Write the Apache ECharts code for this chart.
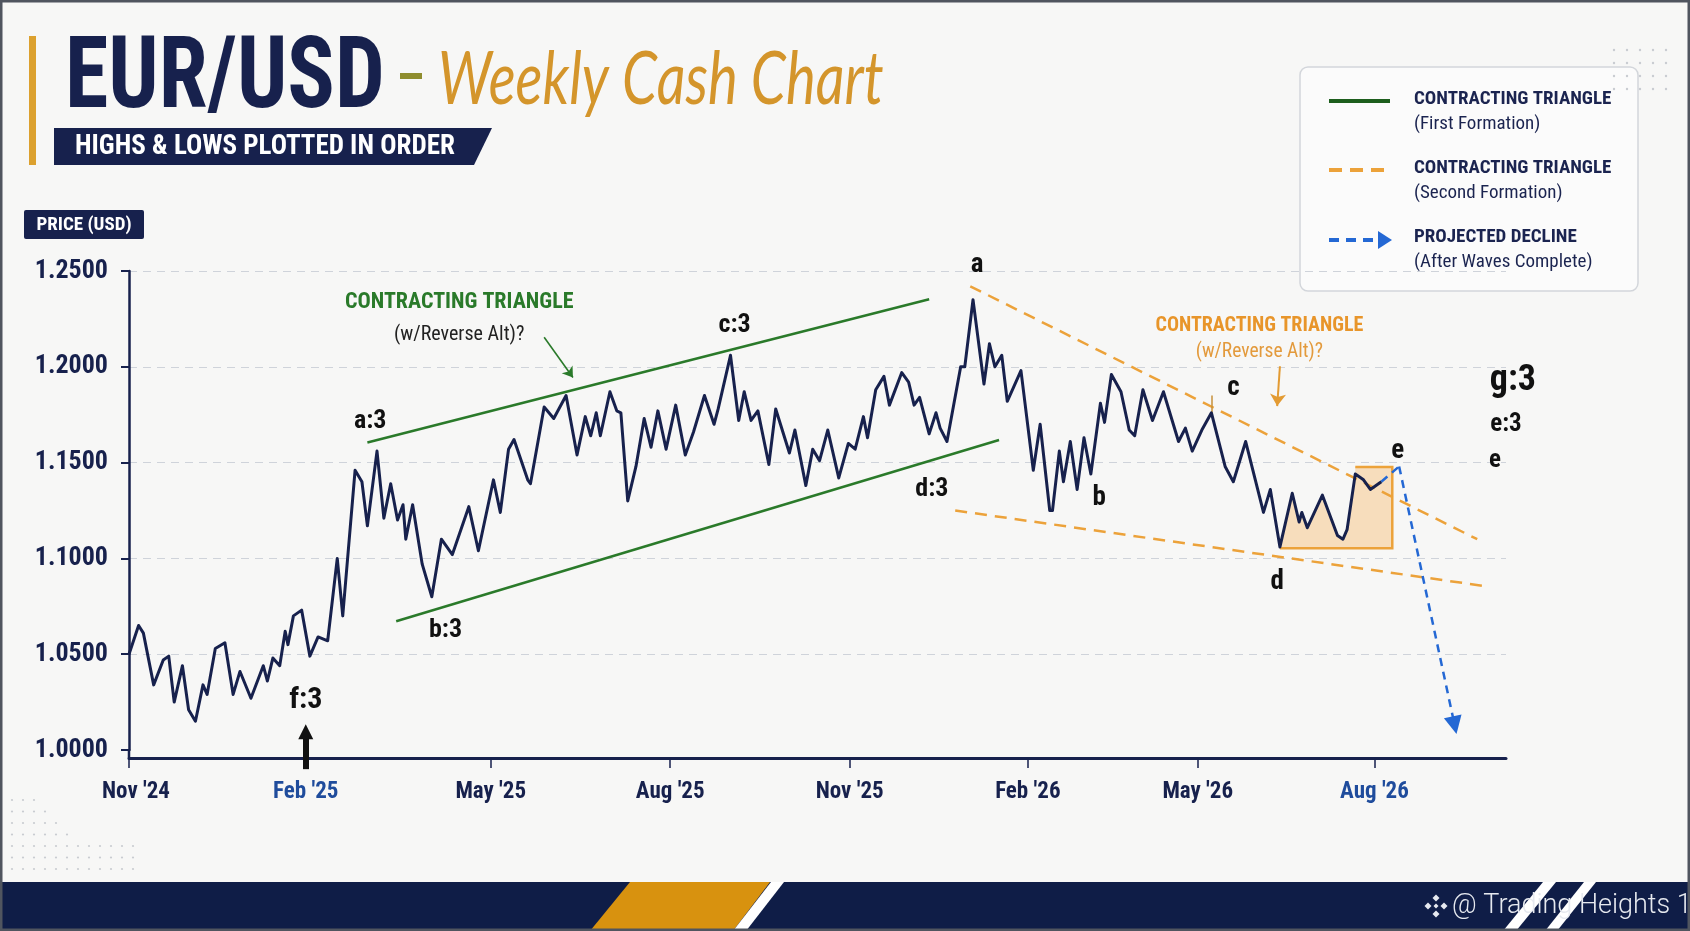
<!DOCTYPE html>
<html>
<head>
<meta charset="utf-8">
<title>EUR/USD - Weekly Cash Chart</title>
<script src="https://cdn.jsdelivr.net/npm/echarts@6/dist/echarts.min.js"></script>
<style>
  html, body { margin: 0; padding: 0; background: #f7f7f6; }
  #chart { width: 1690px; height: 931px; }
</style>
</head>
<body>
<div id="chart"></div>
<script type="text/javascript">
  // Weekly highs & lows in order. x = weeks since start of Nov 2024
  var weekPos = [
    0, 0.7, 1.05, 1.8, 2.5, 2.9, 3.3, 3.9, 4.35, 4.85,
    5.4, 5.7, 6.3, 7.0, 7.6, 8.1, 8.9, 9.8, 10.1, 10.5,
    11.0, 11.4, 11.6, 12.0, 12.6, 13.2, 13.8, 14.5, 15.2, 15.6,
    16.5, 17.0, 17.4, 18.1, 18.6, 19.1, 19.6, 20.0, 20.2, 20.7,
    21.4, 22.1, 22.8, 23.6, 24.8, 25.5, 26.6, 27.1, 27.7, 28.1,
    29.1, 29.3, 30.3, 31.0, 31.9, 32.7, 33.3, 33.7, 34.1, 34.4,
    35.1, 35.6, 35.9, 36.4, 37.0, 37.6, 38.1, 38.6, 39.2, 39.9,
    40.6, 41.2, 42.0, 42.7, 43.0, 43.9, 44.5, 44.9, 45.4, 45.9,
    46.7, 47.2, 48.2, 48.6, 49.4, 49.9, 50.4, 51.0, 51.8, 52.5,
    53.0, 53.6, 53.9, 54.5, 55.1, 55.5, 56.4, 56.9, 57.3, 57.7,
    58.4, 58.9, 59.2, 59.7, 60.7, 61.0, 61.6, 62.4, 62.8, 63.2,
    63.7, 64.1, 65.1, 66.0, 66.5, 67.2, 67.4, 67.9, 68.2, 68.7,
    69.2, 69.7, 70.2, 70.9, 71.2, 71.7, 72.4, 73.0, 73.4, 74.0,
    74.7, 75.5, 76.6, 77.1, 77.6, 78.3, 79.0, 80.0, 80.6, 81.5,
    82.8, 83.3, 84.0, 84.9, 85.4, 85.6, 86.0, 87.1, 88.2, 88.6,
    88.9, 89.5, 90.1, 90.6, 91.4
  ];
  var price = [
    1.050, 1.065, 1.061, 1.034, 1.047, 1.049, 1.025, 1.044, 1.021, 1.015,
    1.034, 1.029, 1.053, 1.056, 1.029, 1.041, 1.027, 1.044, 1.036, 1.048,
    1.044, 1.062, 1.055, 1.070, 1.073, 1.049, 1.059, 1.057, 1.100, 1.070,
    1.146, 1.140, 1.117, 1.156, 1.121, 1.139, 1.120, 1.128, 1.110, 1.128,
    1.097, 1.080, 1.110, 1.102, 1.127, 1.104, 1.141, 1.124, 1.157, 1.162,
    1.141, 1.139, 1.179, 1.173, 1.185, 1.154, 1.174, 1.164, 1.176, 1.164,
    1.187, 1.177, 1.176, 1.130, 1.148, 1.173, 1.158, 1.177, 1.157, 1.180,
    1.154, 1.166, 1.185, 1.170, 1.178, 1.206, 1.172, 1.187, 1.172, 1.177,
    1.149, 1.178, 1.155, 1.167, 1.138, 1.157, 1.151, 1.167, 1.142, 1.160,
    1.157, 1.174, 1.163, 1.188, 1.195, 1.180, 1.197, 1.192, 1.180, 1.184,
    1.165, 1.176, 1.168, 1.161, 1.200, 1.200, 1.235, 1.191, 1.212, 1.200,
    1.206, 1.182, 1.198, 1.146, 1.170, 1.125, 1.125, 1.156, 1.140, 1.161,
    1.136, 1.163, 1.144, 1.181, 1.171, 1.196, 1.187, 1.167, 1.164, 1.188,
    1.172, 1.187, 1.161, 1.168, 1.156, 1.167, 1.176, 1.148, 1.140, 1.161,
    1.124, 1.136, 1.106, 1.134, 1.119, 1.124, 1.116, 1.133, 1.112, 1.110,
    1.115, 1.144, 1.141, 1.136, 1.140
  ];

  // month ticks (weeks from start) and their labels
  var tickWeeks = [0, 12.9, 26.4, 39.5, 52.6, 65.6, 78.0, 90.9];
  var tickLabels = ["Nov '24", "Feb '25", "May '25", "Aug '25", "Nov '25", "Feb '26", "May '26", "Aug '26"];
  var blueTicks = ["Feb '25", "Aug '26"];

  // trend lines [week, price]
  var firstUpper = [[17.4, 1.1605], [58.4, 1.2353]];
  var firstLower = [[19.5, 1.0672], [63.5, 1.1618]];
  var secondUpper = [[61.4, 1.2420], [98.4, 1.1100]];
  var secondLower = [[60.3, 1.1250], [99.0, 1.0855]];
  var projection = [[91.4, 1.140], [92.7, 1.148], [96.75, 1.013]];
  var cTouch = [[79.0, 1.176], [79.0, 1.185]];

  // d -> e box
  var boxFrom = 84.0, boxTopFrom = 89.5, boxTo = 92.2;
  var boxLow = 1.1053, boxHigh = 1.1477;

  // wave labels [week, price, text]
  var minorWaves = [[17.6, 1.1715, 'a:3'], [23.1, 1.0625, 'b:3'], [44.2, 1.2215, 'c:3'], [58.6, 1.1362, 'd:3']];
  var triangleWaves = [[61.9, 1.2532, 'a'], [70.8, 1.1315, 'b'], [80.6, 1.189, 'c'], [83.8, 1.0876, 'd'], [92.6, 1.156, 'e']];
  var sideWaves = [[12.9, 1.026, 'f:3'], [101.0, 1.1925, 'g:3'], [100.5, 1.17, 'e:3'], [99.7, 1.151, 'e']];
  var notes = [
    [24.1, 1.2335, 'CONTRACTING TRIANGLE'], [24.1, 1.2165, '(w/Reverse Alt)?'],
    [82.5, 1.2214, 'CONTRACTING TRIANGLE'], [82.5, 1.2076, '(w/Reverse Alt)?']
  ];
  var noteArrows = [[[30.3, 1.2154], [32.4, 1.1944]], [[84.0, 1.2003], [83.8, 1.1795]]];
  var fArrow = [[12.9, 0.990], [12.9, 1.0095]];

  var FONT = "'Liberation Sans Narrow','Roboto Condensed','DejaVu Sans Condensed','Arial Narrow',Roboto,sans-serif";
  var NAVY = '#17214d';
  var GREEN = '#2a7a2a';
  var ORANGE = '#eca23a';
  var BLUE = '#2468d4';

  var myChart = echarts.init(document.getElementById('chart'));

  var priceData = weekPos.map(function (w, i) {
    return [w, price[i]];
  });

  function labelItems(list, sizes) {
    return list.map(function (d) {
      var item = { value: [d[0], d[1]], label: { formatter: d[2] } };
      if (sizes && sizes[d[2]]) item.label.fontSize = sizes[d[2]];
      return item;
    });
  }

  var noteStyles = [
    { color: GREEN, fontSize: 22, fontWeight: 'bold' },
    { color: '#222222', fontSize: 20, fontWeight: 'normal' },
    { color: '#e8952a', fontSize: 20, fontWeight: 'bold' },
    { color: '#e39a3c', fontSize: 19.5, fontWeight: 'normal' }
  ];

  // page decoration (title block, legend box, footer)
  var deco = [];
  deco.push({ type: 'rect', shape: { x: 29, y: 36, width: 7, height: 129 }, style: { fill: '#dca12f' } });
  deco.push({
    type: 'text', x: 65, y: 82, scaleX: 0.883,
    style: { text: 'EUR/USD', fill: NAVY, font: 'bold 100px ' + FONT, verticalAlign: 'middle' }
  });
  deco.push({ type: 'rect', shape: { x: 400, y: 73, width: 22, height: 6 }, style: { fill: '#8f8d2e' } });
  deco.push({
    type: 'text', x: 438, y: 80, scaleX: 0.76,
    style: { text: 'Weekly Cash Chart', fill: '#d4952b', font: 'italic 400 74px Lato', verticalAlign: 'middle' }
  });
  deco.push({
    type: 'polygon', shape: { points: [[54, 128], [492, 128], [474, 165], [54, 165]] },
    style: { fill: NAVY }
  });
  deco.push({
    type: 'text', x: 75, y: 147,
    style: { text: 'HIGHS & LOWS PLOTTED IN ORDER', fill: '#ffffff', font: 'bold 27px ' + FONT, verticalAlign: 'middle' }
  });
  deco.push({ type: 'rect', shape: { x: 24, y: 210, width: 120, height: 29, r: 2 }, style: { fill: NAVY } });
  deco.push({
    type: 'text', x: 84, y: 225,
    style: { text: 'PRICE (USD)', fill: '#ffffff', font: 'bold 19px ' + FONT, align: 'center', verticalAlign: 'middle' }
  });

  // legend box
  deco.push({
    type: 'rect', shape: { x: 1300, y: 67, width: 338, height: 224, r: 8 },
    style: { fill: '#fbfbfb', stroke: '#d3d6db', lineWidth: 1.5 }
  });
  deco.push({ type: 'line', shape: { x1: 1329, y1: 101, x2: 1390, y2: 101 }, style: { stroke: '#1d5e1d', lineWidth: 4 } });
  deco.push({ type: 'line', shape: { x1: 1329, y1: 170, x2: 1390, y2: 170 }, style: { stroke: ORANGE, lineWidth: 4, lineDash: [13, 8] } });
  deco.push({ type: 'line', shape: { x1: 1329, y1: 240, x2: 1380, y2: 240 }, style: { stroke: BLUE, lineWidth: 4, lineDash: [10, 7] } });
  deco.push({ type: 'polygon', shape: { points: [[1378, 231], [1392, 240], [1378, 249]] }, style: { fill: BLUE } });
  var legendText = [
    ['CONTRACTING TRIANGLE', '(First Formation)', 99],
    ['CONTRACTING TRIANGLE', '(Second Formation)', 168],
    ['PROJECTED DECLINE', '(After Waves Complete)', 237]
  ];
  legendText.forEach(function (t) {
    deco.push({ type: 'text', x: 1414, y: t[2], style: { text: t[0], fill: '#1b2450', font: 'bold 19px ' + FONT, verticalAlign: 'middle' } });
    deco.push({ type: 'text', x: 1414, y: t[2] + 25, style: { text: t[1], fill: '#1b2450', font: '19px ' + FONT, verticalAlign: 'middle' } });
  });

  // dotted corners
  for (var r = 0; r < 4; r++) {
    for (var c = 0; c < 5; c++) {
      deco.push({ type: 'circle', shape: { cx: 1614 + c * 13, cy: 50 + r * 13, r: 1.2 }, style: { fill: '#c9ccd1' } });
    }
  }
  for (var r2 = 0; r2 < 7; r2++) {
    var n = r2 < 4 ? 3 + r2 : 12;
    for (var c2 = 0; c2 < n; c2++) {
      deco.push({ type: 'circle', shape: { cx: 12 + c2 * 11, cy: 800 + r2 * 11.5, r: 1.1 }, style: { fill: '#c9ccd1' } });
    }
  }

  // y axis line runs down to the offset x axis
  deco.push({ type: 'line', shape: { x1: 129, y1: 749, x2: 129, y2: 758 }, style: { stroke: NAVY, lineWidth: 2.5 } });

  // footer
  deco.push({ type: 'rect', shape: { x: 0, y: 882, width: 1690, height: 49 }, style: { fill: '#0f1d47' } });
  deco.push({ type: 'polygon', shape: { points: [[630, 882], [770, 882], [733, 931], [590, 931]] }, style: { fill: '#d8920f' } });
  deco.push({ type: 'polygon', shape: { points: [[771, 882], [784, 882], [746, 931], [733, 931]] }, style: { fill: '#ffffff' } });
  deco.push({ type: 'polygon', shape: { points: [[1543, 882], [1556, 882], [1516, 931], [1503, 931]] }, style: { fill: '#ffffff' } });
  deco.push({ type: 'polygon', shape: { points: [[1584, 882], [1596, 882], [1557, 931], [1545, 931]] }, style: { fill: '#ffffff' } });
  [[0, -8], [8, 0], [0, 8], [-8, 0], [0, 0]].forEach(function (d) {
    var cx = 1436 + d[0], cy = 906 + d[1], s = d[0] === 0 && d[1] === 0 ? 2.5 : 3.5;
    deco.push({
      type: 'polygon', shape: { points: [[cx, cy - s], [cx + s, cy], [cx, cy + s], [cx - s, cy]] },
      style: { fill: '#e6e9ef' }
    });
  });
  deco.push({
    type: 'text', x: 1452, y: 906,
    style: { text: '@ Trading Heights 1', fill: '#e6e9ef', font: '300 27px Roboto', verticalAlign: 'middle' }
  });
  deco.push({
    type: 'rect', shape: { x: 0, y: 0, width: 1690, height: 931 },
    style: { fill: null, stroke: '#50555f', lineWidth: 5 }, z: 100
  });

  var labelFont = { fontSize: 23, fontWeight: 'bold', fontFamily: FONT };

  var option = {
    animation: false,
    backgroundColor: '#f7f7f6',
    grid: { left: 129, right: 184, top: 271, bottom: 181 },
    xAxis: {
      type: 'value',
      min: 0,
      max: 100.5,
      offset: 8,
      axisLine: { show: true, lineStyle: { color: NAVY, width: 3 } },
      axisTick: { show: true, customValues: tickWeeks, length: 10, lineStyle: { color: NAVY, width: 1.5 } },
      axisLabel: {
        customValues: tickWeeks,
        margin: 23,
        formatter: function (v) {
          var i = tickWeeks.indexOf(v);
          var t = tickLabels[i] || '';
          var key = i === 0 ? 'f' : (blueTicks.indexOf(t) >= 0 ? 'b' : 'n');
          return '{' + key + '|' + t + '}';
        },
        rich: {
          n: Object.assign({ color: NAVY }, labelFont),
          b: Object.assign({ color: '#1f4c9c' }, labelFont),
          f: Object.assign({ color: NAVY, padding: [0, 0, 0, 14] }, labelFont)
        }
      },
      splitLine: { show: false }
    },
    yAxis: {
      type: 'value',
      min: 1.0,
      max: 1.25,
      interval: 0.05,
      axisLine: { show: true, lineStyle: { color: NAVY, width: 2.5 } },
      axisTick: { show: true, length: 8, lineStyle: { color: NAVY, width: 2 } },
      axisLabel: {
        margin: 21,
        color: NAVY,
        fontSize: 26,
        fontWeight: 'bold',
        fontFamily: FONT,
        formatter: function (v) { return v.toFixed(4); }
      },
      splitLine: { show: true, showMinLine: false, lineStyle: { color: '#cfd3da', width: 1, type: [8, 6] } }
    },
    graphic: { elements: deco },
    series: [
      {
        name: 'd-e box',
        type: 'custom',
        z: 2,
        silent: true,
        data: [[boxFrom, boxLow]],
        renderItem: function (params, api) {
          var poly = [];
          for (var i = 0; i < weekPos.length; i++) {
            if (weekPos[i] >= boxFrom && weekPos[i] <= boxTopFrom) poly.push(api.coord([weekPos[i], price[i]]));
          }
          var edge = [
            api.coord([boxTopFrom, boxHigh]), api.coord([boxTo, boxHigh]),
            api.coord([boxTo, boxLow]), api.coord([boxFrom, boxLow])
          ];
          return {
            type: 'group',
            children: [
              { type: 'polygon', shape: { points: poly.concat(edge) }, style: { fill: 'rgba(248,180,95,0.38)' } },
              { type: 'polyline', shape: { points: edge }, style: { stroke: ORANGE, lineWidth: 2.5, fill: null } }
            ]
          };
        }
      },
      {
        name: 'first upper', type: 'line', z: 3, symbol: 'none', silent: true,
        lineStyle: { color: GREEN, width: 2.5 }, data: firstUpper
      },
      {
        name: 'first lower', type: 'line', z: 3, symbol: 'none', silent: true,
        lineStyle: { color: GREEN, width: 2.5 }, data: firstLower
      },
      {
        name: 'second upper', type: 'line', z: 3, symbol: 'none', silent: true,
        lineStyle: { color: ORANGE, width: 2.5, type: [12, 8] }, data: secondUpper
      },
      {
        name: 'second lower', type: 'line', z: 3, symbol: 'none', silent: true,
        lineStyle: { color: ORANGE, width: 2.5, type: [12, 8] }, data: secondLower
      },
      {
        name: 'EUR/USD', type: 'line', z: 5, symbol: 'none', silent: true,
        lineStyle: { color: NAVY, width: 3, join: 'round' }, data: priceData
      },
      {
        name: 'projection start', type: 'line', z: 4, symbol: 'none', silent: true,
        lineStyle: { color: BLUE, width: 2.5, type: [8, 6] }, data: projection.slice(0, 2)
      },
      {
        name: 'projected decline', type: 'lines', coordinateSystem: 'cartesian2d', z: 4, clip: false, silent: true,
        symbol: ['none', 'triangle'], symbolSize: [16, 18],
        lineStyle: { color: BLUE, width: 2.5, type: [8, 6], opacity: 1 },
        data: [{ coords: projection.slice(1) }]
      },
      {
        name: 'c touch', type: 'lines', coordinateSystem: 'cartesian2d', z: 4, clip: false, silent: true,
        symbol: 'none', lineStyle: { color: '#c7913a', width: 1.5, opacity: 1 },
        data: [{ coords: cTouch }]
      },
      {
        name: 'green note arrow', type: 'lines', coordinateSystem: 'cartesian2d', z: 6, clip: false, silent: true,
        symbol: ['none', 'arrow'], symbolSize: 10,
        lineStyle: { color: GREEN, width: 1.6, opacity: 1 },
        data: [{ coords: noteArrows[0] }]
      },
      {
        name: 'orange note arrow', type: 'lines', coordinateSystem: 'cartesian2d', z: 6, clip: false, silent: true,
        symbol: ['none', 'arrow'], symbolSize: 12,
        lineStyle: { color: '#e39b33', width: 2, opacity: 1 },
        data: [{ coords: noteArrows[1] }]
      },
      {
        name: 'f arrow', type: 'lines', coordinateSystem: 'cartesian2d', z: 7, clip: false, silent: true,
        symbol: ['none', 'triangle'], symbolSize: [19, 15],
        lineStyle: { color: '#111111', width: 6, opacity: 1 },
        data: [{ coords: fArrow }]
      },
      {
        name: 'minor waves', type: 'scatter', z: 8, clip: false, silent: true,
        symbolSize: 1, itemStyle: { color: 'rgba(0,0,0,0)', opacity: 1 },
        label: { show: true, position: 'inside', color: '#111111', fontSize: 26, fontWeight: 'bold', fontFamily: FONT },
        data: labelItems(minorWaves)
      },
      {
        name: 'triangle waves', type: 'scatter', z: 8, clip: false, silent: true,
        symbolSize: 1, itemStyle: { color: 'rgba(0,0,0,0)', opacity: 1 },
        label: { show: true, position: 'inside', color: '#111111', fontSize: 27, fontWeight: 'bold', fontFamily: FONT },
        data: labelItems(triangleWaves)
      },
      {
        name: 'side waves', type: 'scatter', z: 8, clip: false, silent: true,
        symbolSize: 1, itemStyle: { color: 'rgba(0,0,0,0)', opacity: 1 },
        label: { show: true, position: 'inside', color: '#111111', fontSize: 25, fontWeight: 'bold', fontFamily: FONT },
        data: labelItems(sideWaves, { 'f:3': 30, 'g:3': 36 })
      },
      {
        name: 'notes', type: 'scatter', z: 8, clip: false, silent: true,
        symbolSize: 1, itemStyle: { color: 'rgba(0,0,0,0)', opacity: 1 },
        label: { show: true, position: 'inside', fontFamily: FONT },
        data: notes.map(function (d, i) {
          var st = noteStyles[i];
          return {
            value: [d[0], d[1]],
            label: { formatter: d[2], color: st.color, fontSize: st.fontSize, fontWeight: st.fontWeight }
          };
        })
      }
    ]
  };

  myChart.setOption(option);

  window.addEventListener('resize', function () {
    myChart.resize();
  });
</script>
</body>
</html>
